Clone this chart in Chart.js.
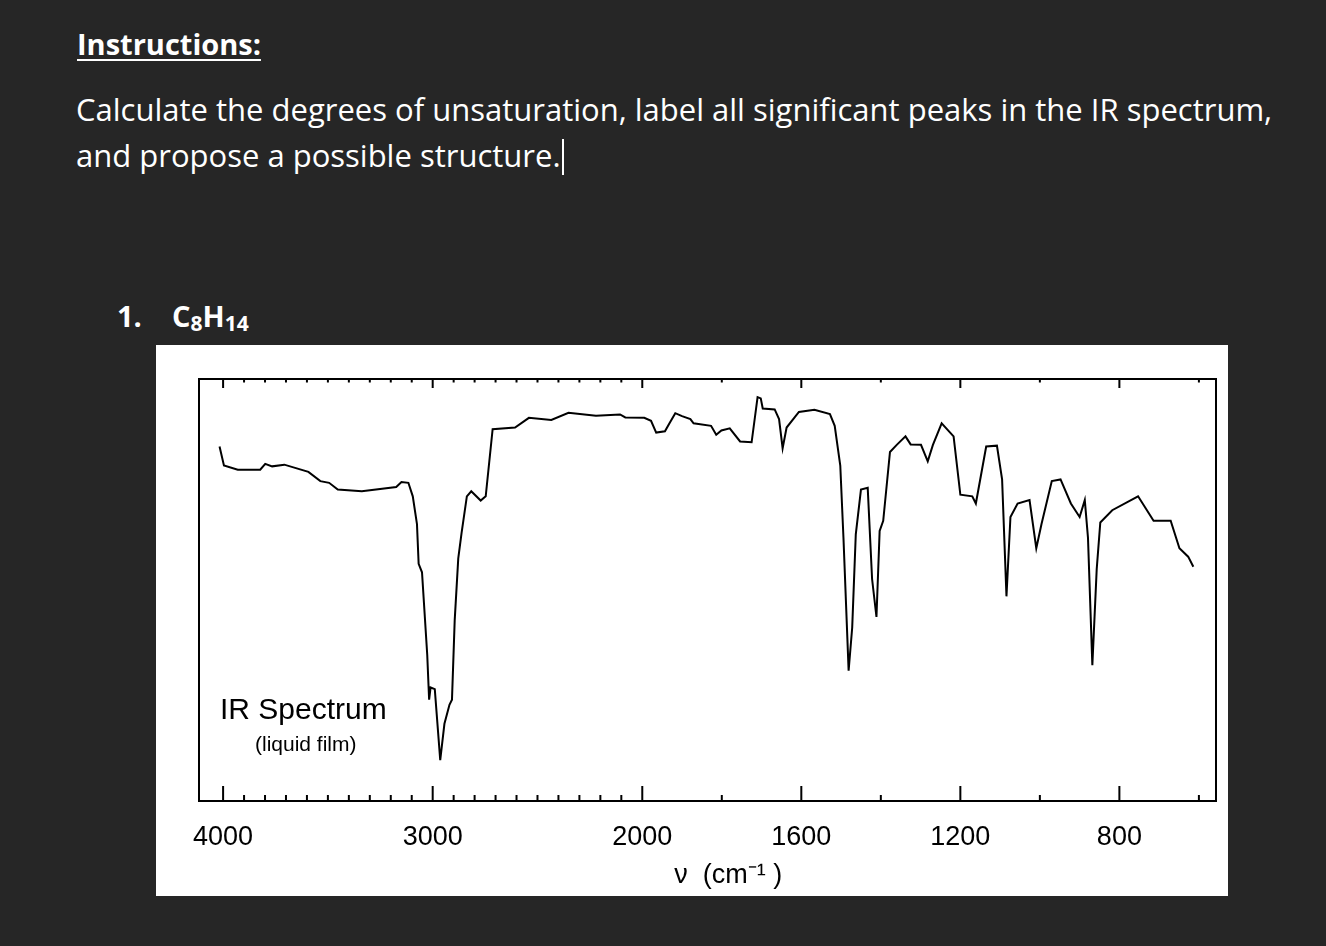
<!DOCTYPE html>
<html>
<head>
<meta charset="utf-8">
<script src="https://cdn.jsdelivr.net/npm/chart.js@4"></script>
<style>
  body { margin: 0; background: #262626; width: 1326px; height: 946px; overflow: hidden; font-family: "Open Sans", Lato, sans-serif; color: #fff; }
  #h { position: absolute; left: 77px; top: 24px; font-size: 29px; font-weight: bold; text-decoration: underline; text-underline-offset: 4px; }
  #p { position: absolute; left: 76px; top: 86px; font-size: 31px; line-height: 46px; width: 1250px; white-space: nowrap; }
  #cur { display: inline-block; width: 2px; height: 36px; background: #fff; vertical-align: -8px; margin-left: 1px; }
  #q { position: absolute; left: 117px; top: 296px; font-size: 29px; font-weight: bold; }
  #q sub { font-size: 21px; vertical-align: -4px; }
  #box { position: absolute; left: 156px; top: 345px; width: 1072px; height: 551px; background: #fff; }
</style>
</head>
<body>
<div id="h">Instructions:</div>
<div id="p">Calculate the degrees of unsaturation, label all significant peaks in the IR spectrum,<br>and propose a possible structure.<span id="cur"></span></div>
<div id="q">1.&nbsp;&nbsp;&nbsp;&nbsp;C<sub>8</sub>H<sub>14</sub></div>
<div id="box"><canvas id="irChart" width="1072" height="551"></canvas></div>
<script>
// wavenumbers (cm-1) and % transmittance
const wavenumbers = [4017, 3996, 3930, 3823, 3799, 3766, 3708, 3593, 3536, 3494, 3453, 3338, 3174, 3149, 3116, 3095, 3075, 3067, 3051, 3026, 3017, 3010, 2990, 2964, 2944, 2920, 2908, 2895, 2878, 2862, 2837, 2816, 2771, 2747, 2714, 2607, 2541, 2434, 2352, 2221, 2106, 2081, 1995, 1978, 1965, 1943, 1933, 1917, 1900, 1879, 1871, 1827, 1814, 1801, 1780, 1754, 1725, 1710, 1702, 1697, 1667, 1656, 1647, 1637, 1606, 1567, 1528, 1516, 1502, 1494, 1481, 1472, 1463, 1450, 1433, 1422, 1411, 1403, 1394, 1377, 1360, 1338, 1325, 1299, 1282, 1269, 1247, 1217, 1200, 1170, 1161, 1135, 1108, 1095, 1084, 1074, 1056, 1026, 1009, 996, 970, 948, 922, 900, 887, 879, 868, 857, 848, 818, 753, 714, 671, 649, 627, 614];
const transmittance = [84.0, 79.5, 78.5, 78.5, 79.9, 79.3, 79.7, 78.0, 75.8, 75.4, 73.8, 73.4, 74.4, 75.6, 75.4, 72.2, 65.6, 56.2, 54.2, 34.6, 24.0, 26.9, 26.5, 9.7, 18.3, 22.8, 24.0, 42.8, 57.5, 63.6, 72.2, 73.4, 71.2, 72.2, 88.1, 88.5, 90.8, 90.3, 92.0, 91.3, 91.6, 90.9, 90.8, 90.1, 87.3, 87.6, 89.3, 91.9, 91.2, 90.5, 89.5, 88.9, 86.8, 87.8, 88.3, 85.2, 85.0, 95.7, 95.4, 93.0, 92.8, 90.5, 83.6, 88.5, 92.2, 92.7, 91.7, 88.9, 79.5, 62.4, 30.9, 41.1, 63.2, 73.8, 74.2, 52.6, 43.6, 64.0, 66.4, 82.7, 84.4, 86.4, 84.5, 84.4, 80.5, 84.4, 89.5, 86.4, 72.6, 72.2, 70.5, 84.0, 84.2, 76.2, 48.5, 67.3, 70.5, 71.3, 59.9, 65.6, 75.8, 76.2, 70.5, 67.3, 71.3, 62.4, 32.2, 55.0, 66.0, 68.9, 72.2, 66.4, 66.4, 59.9, 57.9, 55.5];
const tickLabels = [4000, 3000, 2000, 1600, 1200, 800];
const minorTicks = [3900, 3800, 3700, 3600, 3500, 3400, 3300, 3200, 3100, 2900, 2800, 2700, 2600, 2500, 2400, 2300, 2200, 2100, 1800, 1400, 1000, 600];

// the axis scale changes at 2000 cm-1 (x2 expansion below it)
function toAxis(w) {
  return w >= 2000 ? 4000 - w : 2000 + (2000 - w) * 1.897;
}

const points = wavenumbers.map((w, i) => ({ x: toAxis(w), y: transmittance[i] }));

const frame = {
  id: 'frame',
  afterDraw(chart) {
    const ctx = chart.ctx;
    const a = chart.chartArea;
    const xs = chart.scales.x;
    ctx.save();
    ctx.strokeStyle = '#000';
    ctx.lineWidth = 2;
    ctx.strokeRect(a.left, a.top, a.right - a.left, a.bottom - a.top);
    function tick(w, len) {
      const px = xs.getPixelForValue(toAxis(w));
      ctx.beginPath();
      ctx.moveTo(px, a.bottom); ctx.lineTo(px, a.bottom - len);
      ctx.moveTo(px, a.top); ctx.lineTo(px, a.top + len * 0.6);
      ctx.stroke();
    }
    tickLabels.forEach(w => tick(w, 15));
    minorTicks.forEach(w => tick(w, 6));
    ctx.fillStyle = '#000';
    ctx.textAlign = 'left';
    ctx.font = '30px "Liberation Sans"';
    ctx.fillText('IR Spectrum', a.left + 21, a.top + 340);
    ctx.font = '21px "Liberation Sans"';
    ctx.fillText('(liquid film)', a.left + 56, a.top + 372);
    ctx.textAlign = 'center';
    ctx.font = '27px "Liberation Sans"';
    ctx.fillText('\u03BD  (cm\u207B\u00B9 )', xs.getPixelForValue(toAxis(1784)), a.bottom + 82);
    ctx.restore();
  }
};

new Chart(document.getElementById('irChart'), {
  type: 'line',
  data: {
    datasets: [{
      data: points,
      borderColor: '#000',
      borderWidth: 2,
      pointRadius: 0,
      tension: 0,
      fill: false
    }]
  },
  options: {
    responsive: false,
    animation: false,
    layout: { padding: { left: 43, right: 12, top: 34, bottom: 0 } },
    plugins: { legend: { display: false }, tooltip: { enabled: false } },
    scales: {
      x: {
        type: 'linear',
        min: toAxis(4115),
        max: toAxis(557),
        afterBuildTicks: (s) => { s.ticks = tickLabels.map(w => ({ value: toAxis(w) })); },
        afterFit: (s) => { s.height = 95; },
        grid: { display: false },
        border: { display: false },
        ticks: {
          autoSkip: false,
          maxRotation: 0,
          padding: 12,
          color: '#000',
          font: { family: 'Liberation Sans', size: 27 },
          callback: (v) => tickLabels.find(w => Math.abs(toAxis(w) - v) < 1)
        }
      },
      y: { display: false, min: 0, max: 100 }
    }
  },
  plugins: [frame]
});
</script>
</body>
</html>
